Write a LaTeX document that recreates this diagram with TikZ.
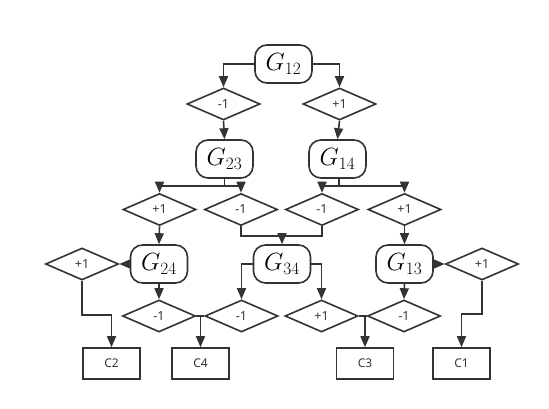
\documentclass[tikz,border=0pt]{standalone}
\usepackage{fontspec}
\setsansfont{Noto Sans}
\usetikzlibrary{shapes.geometric,arrows.meta}
\definecolor{ln}{HTML}{333333}
\tikzset{
  gbox/.style={draw=ln,line width=1.6pt,rounded corners=12pt,minimum width=57pt,minimum height=38pt,inner sep=0pt,font=\fontsize{23}{25}\selectfont},
  dia/.style={draw=ln,line width=1.6pt,diamond,minimum width=73pt,minimum height=32pt,inner sep=0pt,font=\sffamily\fontsize{12.5}{14}\selectfont,text=ln},
  cbox/.style={draw=ln,line width=1.6pt,minimum width=57pt,minimum height=31pt,inner sep=0pt,font=\sffamily\fontsize{12}{14}\selectfont,text=ln},
  conn/.style={draw=ln,line width=1.6pt},
  arr/.style={conn,-{Triangle[length=11pt,width=9pt]}}
}
\begin{document}
\begin{tikzpicture}[x=1pt,y=-1pt]
\useasboundingbox (0,0) rectangle (549,409);
% G nodes
\node[gbox] (G12) at (283.5,64) {$G_{12}$};
\node[gbox] (G23) at (224.5,159) {$G_{23}$};
\node[gbox] (G14) at (337.5,159) {$G_{14}$};
\node[gbox] (G24) at (159,264) {$G_{24}$};
\node[gbox] (G34) at (282,264) {$G_{34}$};
\node[gbox] (G13) at (404.5,264) {$G_{13}$};
% diamonds
\node[dia] (d1) at (223.5,104) {-1};
\node[dia] (d2) at (339.5,104) {+1};
\node[dia] (d3) at (159.5,209.5) {+1};
\node[dia] (d4) at (241,209.5) {-1};
\node[dia] (d5) at (322,209.5) {-1};
\node[dia] (d6) at (404.5,209.5) {+1};
\node[dia] (d7) at (82,264) {+1};
\node[dia] (d8) at (482,264) {+1};
\node[dia] (d9) at (159,316) {-1};
\node[dia] (d10) at (241.5,316) {-1};
\node[dia] (d11) at (321.5,316) {+1};
\node[dia] (d12) at (404,316) {-1};
% boxes
\node[cbox] (C2) at (111.5,363.5) {C2};
\node[cbox] (C4) at (200.5,363.5) {C4};
\node[cbox] (C3) at (365,363.5) {C3};
\node[cbox] (C1) at (461.5,363.5) {C1};
% junctions
\coordinate (jA) at (224.5,186);
\coordinate (jB) at (339,186);
\coordinate (jB0) at (339,178);
\coordinate (jC) at (282,236);
\coordinate (jD) at (200.5,316);
\coordinate (jE) at (365,316);
\coordinate (jF) at (82,315);
\coordinate (jG) at (482,314);
% connectors
\draw[arr] (G12.west) -| (d1.north);
\draw[arr] (G12.east) -| (d2.north);
\draw[arr] (d1.south) -- (G23.north);
\draw[arr] (d2.south) -- (G14.north);
\draw[conn] (G23.south) -- (jA);
\draw[arr] (jA) -| (d3.north);
\draw[arr] (jA) -| (d4.north);
\draw[conn] (jB0) -- (jB);
\draw[arr] (jB) -| (d5.north);
\draw[arr] (jB) -| (d6.north);
\draw[conn] (d4.south) |- (jC) -| (d5.south);
\draw[arr] (jC) -- (G34.north);
\draw[arr] (d3.south) -- (G24.north);
\draw[arr] (d6.south) -- (G13.north);
\draw[arr] (G24.west) -- (d7.east);
\draw[arr] (G13.east) -- (d8.west);
\draw[arr] (G24.south) -- (d9.north);
\draw[arr] (G13.south) -- (d12.north);
\draw[arr] (G34.west) -| (d10.north);
\draw[arr] (G34.east) -| (d11.north);
\draw[conn] (d9.east) -- (d10.west);
\draw[conn] (d11.east) -- (d12.west);
\draw[arr] (jD) -- (C4.north);
\draw[arr] (jE) -- (C3.north);
\draw[arr] (d7.south) -- (jF) -| (C2.north);
\draw[arr] (d8.south) -- (jG) -| (C1.north);
\end{tikzpicture}
\end{document}
